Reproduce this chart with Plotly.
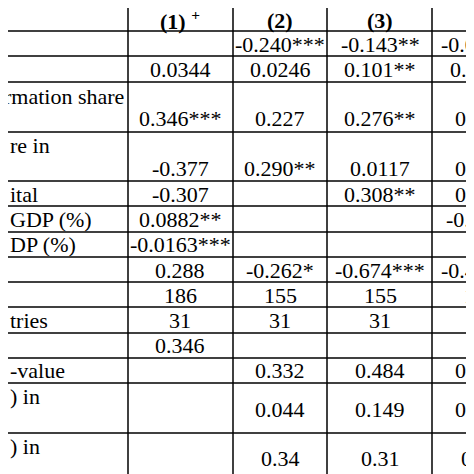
import plotly.graph_objects as go

headers = ["(1) <sup>+</sup>", "(2)", "(3)", "(4)"]
row_labels = ["", "", "ormation share", "re in", "ital", "GDP (%)", "DP (%)", "", "", "tries", "", "-value", ") in", ") in"]
col1 = ["", "0.0344", "0.346***", "-0.377", "-0.307", "0.0882**", "-0.0163***", "0.288", "186", "31", "0.346", "", "", ""]
col2 = ["-0.240***", "0.0246", "0.227", "0.290**", "", "", "", "-0.262*", "155", "31", "", "0.332", "0.044", "0.34"]
col3 = ["-0.143**", "0.101**", "0.276**", "0.0117", "0.308**", "", "", "-0.674***", "155", "31", "", "0.484", "0.149", "0.31"]
col4 = ["-0.099**", "0.0595", "0.208", "0.152", "0.143", "-0.0051", "", "-0.451**", "155", "31", "", "0.176", "0.067", "0.57"]

# layout geometry (pixels)
hlines = [23, 48, 74, 124, 173, 198, 224, 249, 274, 299, 325, 350, 375, 425]
vlines = [120, 225, 319, 424]
col_centers = [172, 272, 372, 472]
label_y = [36, 61, 88, 137, 186, 211, 236, 262, 287, 312, 337, 362, 388, 438]
value_y = [36, 61, 110, 160, 186, 211, 236, 262, 287, 312, 337, 362, 401, 450]

font = dict(family="Liberation Serif", size=22, color="black")
shapes = []
for y in hlines:
    shapes.append(dict(type="line", xref="x", yref="y", x0=0, x1=474, y0=y, y1=y, line=dict(color="black", width=1.5)))
for x in vlines:
    shapes.append(dict(type="line", xref="x", yref="y", x0=x, x1=x, y0=0, y1=474, line=dict(color="black", width=1.5)))

ann = []
for c, h in zip(col_centers, headers):
    ann.append(dict(x=c, y=12, text="<b>" + h + "</b>", showarrow=False, xanchor="center", yanchor="middle", font=font))
for i, lab in enumerate(row_labels):
    if lab:
        wide = len(lab) > 10
        ann.append(dict(x=118 if wide else 0, y=label_y[i], text=lab, showarrow=False,
                        xanchor="right" if wide else "left", yanchor="middle", font=font))
for c, col in zip(col_centers, [col1, col2, col3, col4]):
    for i, v in enumerate(col):
        if v:
            ann.append(dict(x=c, y=value_y[i], text=v, showarrow=False, xanchor="center", yanchor="middle", font=font))

fig = go.Figure()
fig.update_layout(width=474, height=474, margin=dict(l=0, r=0, t=0, b=0),
                  paper_bgcolor="white", plot_bgcolor="white",
                  xaxis=dict(range=[0, 474], visible=False, fixedrange=True),
                  yaxis=dict(range=[474, 0], visible=False, fixedrange=True),
                  shapes=shapes, annotations=ann, showlegend=False)
fig.write_html("out.html")
